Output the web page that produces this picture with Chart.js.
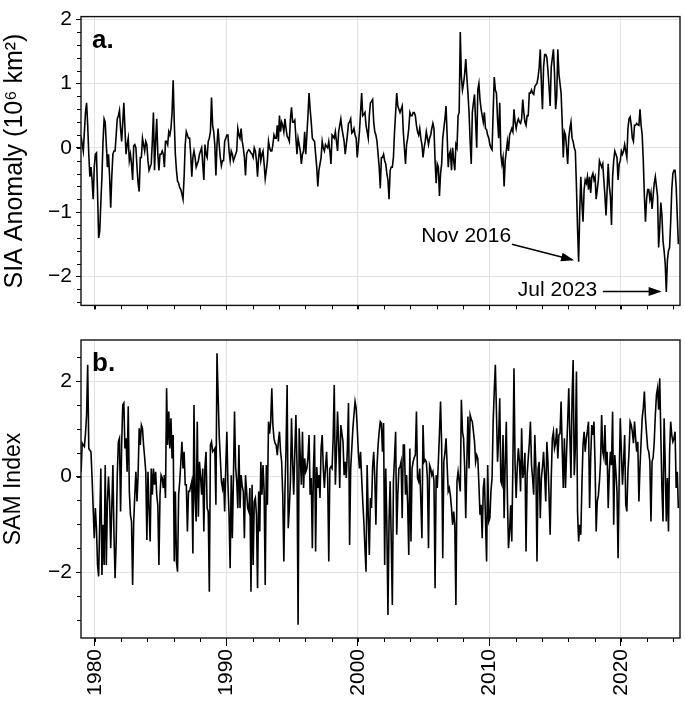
<!DOCTYPE html>
<html><head><meta charset="utf-8">
<script src="https://cdn.jsdelivr.net/npm/chart.js@4.4.1/dist/chart.umd.min.js"></script>
<style>
html,body{margin:0;padding:0;background:#fff;}
#wrap{position:relative;width:685px;height:712px;background:#fff;}
#c1{position:absolute;left:0;top:0;}
#c2{position:absolute;left:0;top:322px;}
</style></head><body>
<div id="wrap"><canvas id="c1" width="685" height="322"></canvas><canvas id="c2" width="685" height="390"></canvas></div>
<script>
// ---------------- DATA ----------------
const startYear = 1979;           // first month = Jan 1979, monthly series
const decadeTicks = [1980, 1990, 2000, 2010, 2020];
const siaTicks = [-2, -1, 0, 1, 2];
const samTicks = [-2, 0, 2];

// Antarctic sea-ice area anomaly (10^6 km^2), monthly
const siaAnomaly = [
 0.18, 0.05,-0.05, 0.25, 0.55, 0.70, 0.35,-0.10,-0.45,-0.30,-0.50,-0.80, // 1979
-0.30,-0.10,-0.08,-0.70,-1.40,-1.30,-0.85,-0.45, 0.10, 0.45, 0.40, 0.05, // 1980
-0.30,-0.10,-0.45,-0.93,-0.45,-0.10,-0.05,-0.05, 0.20, 0.45, 0.50, 0.58, // 1981
 0.30, 0.10, 0.40, 0.70, 0.30,-0.10, 0.05, 0.15,-0.20,-0.10,-0.25,-0.50, // 1982
 0.03, 0.05, 0.00,-0.30,-0.55,-0.68,-0.15,-0.15, 0.15, 0.05,-0.05, 0.10, // 1983
 0.05,-0.20,-0.35,-0.30,-0.25, 0.10, 0.55,-0.35, 0.10, 0.45,-0.10,-0.35, // 1984
-0.10,-0.10,-0.05,-0.10,-0.30, 0.10, 0.10, 0.05, 0.25, 0.20, 0.30, 0.55, // 1985
 1.05, 0.40,-0.10,-0.35,-0.52,-0.55,-0.62,-0.65,-0.72,-0.80,-0.45, 0.05, // 1986
 0.25, 0.20, 0.15, 0.15,-0.10,-0.45,-0.15,-0.05,-0.15,-0.30,-0.25,-0.20, // 1987
-0.10,-0.05, 0.00,-0.25,-0.50, 0.05,-0.10,-0.15, 0.10, 0.15, 0.25, 0.78, // 1988
 0.35, 0.25, 0.05,-0.43, 0.05, 0.30, 0.05,-0.15,-0.28,-0.20,-0.20, 0.10, // 1989
 0.15, 0.20, 0.20,-0.05,-0.20,-0.05,-0.10,-0.20,-0.15,-0.10,-0.05, 0.30, // 1990
 0.20, 0.15, 0.30, 0.10, 0.00,-0.15,-0.43,-0.10,-0.05,-0.03,-0.05,-0.08, // 1991
-0.10,-0.15, 0.00,-0.05,-0.20,-0.45,-0.15, 0.00,-0.20,-0.10,-0.05,-0.25, // 1992
-0.48,-0.35,-0.20, 0.10, 0.00,-0.05,-0.05, 0.05, 0.20, 0.15, 0.15, 0.35, // 1993
 0.10, 0.50, 0.25, 0.40, 0.35, 0.25, 0.45, 0.30, 0.18, 0.15, 0.10, 0.45, // 1994
 0.63, 0.40, 0.40, 0.43, 0.15,-0.10, 0.15, 0.05,-0.05,-0.25,-0.10,-0.05, // 1995
 0.25,-0.10, 0.20, 0.50, 0.85, 0.60, 0.40, 0.15, 0.12, 0.10,-0.10,-0.30, // 1996
-0.60,-0.35,-0.25,-0.15, 0.10, 0.00,-0.05, 0.05, 0.02, 0.00, 0.10,-0.05, // 1997
-0.25, 0.20, 0.18, 0.15, 0.25, 0.10,-0.05, 0.25, 0.35, 0.45, 0.30, 0.20, // 1998
 0.10,-0.10, 0.05, 0.20, 0.38, 0.40, 0.45, 0.23, 0.25, 0.30, 0.20, 0.15, // 1999
-0.15, 0.05, 0.25, 0.55, 0.85, 0.50, 0.52, 0.55, 0.35, 0.25, 0.15, 0.50, // 2000
 0.70, 0.72, 0.75, 0.40, 0.25, 0.20, 0.10,-0.10,-0.30,-0.63,-0.15,-0.15, // 2001
-0.10,-0.20,-0.25,-0.40,-0.50,-0.80,-0.35,-0.30,-0.30,-0.15, 0.25, 0.55, // 2002
 0.85, 0.65, 0.60, 0.55, 0.60, 0.65, 0.25, 0.00,-0.25, 0.05, 0.15, 0.30, // 2003
 0.55, 0.50, 0.50, 0.55, 0.55, 0.50, 0.35, 0.25, 0.20, 0.30, 0.15, 0.05, // 2004
-0.15, 0.00, 0.10, 0.25, 0.15, 0.05, 0.15, 0.20, 0.30, 0.38, 0.30,-0.20, // 2005
-0.55,-0.25,-0.30,-0.75,-0.40,-0.25, 0.15, 0.30, 0.45, 0.65, 0.20,-0.30, // 2006
-0.10,-0.05,-0.35, 0.00,-0.20,-0.35, 0.05, 0.00, 0.50, 0.55, 1.80, 1.10, // 2007
 0.90, 1.00, 1.15, 1.38, 1.10, 0.85, 0.55, 0.10,-0.25, 0.55, 0.70, 0.83, // 2008
 0.40, 0.00, 0.90, 1.00, 0.75, 0.60, 0.50, 0.40, 0.55, 0.30, 0.28, 0.20, // 2009
 0.15, 0.05, 0.00,-0.03, 0.55, 1.10, 0.90, 0.85, 0.45, 0.15, 0.70,-0.10, // 2010
-0.25,-0.15,-0.60,-0.20,-0.05, 0.10,-0.05, 0.20, 0.25, 0.30, 0.25, 0.60, // 2011
 0.40, 0.30, 0.40, 0.45, 0.40, 0.38, 0.45, 0.75, 0.55, 0.40, 0.35, 0.50, // 2012
 0.50, 0.85, 0.85, 0.90, 0.85, 0.83, 0.95, 0.98, 1.00, 1.10, 1.25, 1.53, // 2013
 1.00, 0.60, 1.25, 1.45, 1.45, 1.40, 1.20, 0.95, 0.65, 1.25, 1.40, 1.53, // 2014
 1.15, 0.60, 0.80, 1.53, 1.15, 1.00, 0.85, 0.40,-0.15, 0.25, 0.20, 0.00, // 2015
-0.25, 0.15, 0.30, 0.40, 0.15, 0.10, 0.00,-0.05,-0.60,-1.25,-1.77,-1.00, // 2016
-0.45,-0.85,-1.15,-0.65,-0.50,-0.55,-0.45,-0.65,-0.45,-0.70,-0.45,-0.40, // 2017
-0.50,-0.45,-0.80,-0.65,-0.50,-0.20,-0.25,-0.30,-0.25,-0.50,-0.75,-1.05, // 2018
-0.65,-0.25,-0.60,-0.75,-1.20,-0.45,-0.20,-0.05,-0.10,-0.15,-0.50,-0.25, // 2019
-0.20,-0.05,-0.10,-0.05, 0.05,-0.05,-0.15, 0.30, 0.45, 0.48, 0.35, 0.15, // 2020
 0.10, 0.35, 0.35, 0.38, 0.36, 0.35, 0.60, 0.35, 0.20,-0.20,-0.75,-1.15, // 2021
-0.80,-0.65,-0.65,-0.80,-0.70,-0.95,-0.75,-0.55,-0.45,-0.60,-0.75,-1.55, // 2022
-1.25,-0.85,-1.05,-1.45,-1.60,-1.80,-2.24,-1.75,-1.60,-1.55,-1.15,-0.65, // 2023
-0.40,-0.35,-0.35,-0.60,-1.05,-1.50                                      // 2024
];

// Southern Annular Mode index, monthly
const samIndex = [
 0.10, 0.70, 0.66, 0.63, 0.90, 1.29, 2.34, 0.59, 0.55, 0.52,-0.03,-0.66, // 1979
-1.29,-0.66,-1.08,-1.85,-2.09,-0.94, 0.17,-2.06,-1.01,-1.85, 0.24,-1.85, // 1980
-0.52, 0.00,-0.52,-1.50,-0.66, 0.24,-1.22,-2.13,-1.36, 0.03, 0.73, 0.80, // 1981
-0.73, 0.66, 1.50, 1.54, 0.59, 0.80, 0.10, 1.47,-0.31,-0.80,-0.94,-2.27, // 1982
-0.94,-0.38, 0.10,-0.52, 0.03, 1.01, 0.66, 1.08, 1.01, 0.66, 0.40, 0.10, // 1983
-1.33, 0.10,-0.66,-1.36, 0.17,-0.38, 0.17,-0.17, 0.10,-0.38,-0.60,-1.85, // 1984
-0.38, 0.03,-0.03,-0.24, 0.03,-0.45, 1.85, 0.66, 1.36, 0.59, 1.22, 0.38, // 1985
 0.87,-1.78,-0.31,-1.78,-1.99,-0.38,-0.10, 0.30, 0.73, 0.17, 0.52,-0.17, // 1986
-0.17,-1.15,-0.31,-0.31,-0.20,-0.10,-1.61, 1.50,-0.50,-0.94, 1.15,-0.84, // 1987
 0.31, 0.00,-0.38, 0.17,-1.15, 0.20, 0.52,-0.66,-0.73,-2.41, 0.66, 0.73, // 1988
 0.52, 0.55, 0.59,-0.59, 2.58, 1.71, 0.87, 0.40,-0.10,-0.24,-0.03,-0.73, // 1989
 0.20, 0.94,-0.17,-0.80,-1.92, 0.03,-1.29,-0.03, 1.36, 0.20,-0.10,-0.66, // 1990
 0.66,-0.66, 0.03,-0.20,-0.31,-1.29, 0.03,-0.30,-0.66,-0.73,-0.24,-2.41, // 1991
-0.17,-1.85,-0.52,-0.45,-0.80,-2.34,-0.31,-1.15, 0.31,-0.38, 0.24,-0.31, // 1992
-2.27, 0.24,-0.59, 1.15, 0.90, 1.15, 1.85, 1.08, 0.80, 0.70, 0.66, 0.45, // 1993
 0.73, 0.94, 0.52, 0.31,-0.38,-1.78,-0.31, 0.60, 1.92,-1.08,-0.66,-0.10, // 1994
 1.22, 0.31,-0.38, 0.50, 1.29, 0.24,-3.10, 1.01, 0.40,-0.17, 0.94,-0.24, // 1995
 0.38, 0.10, 0.17, 0.40, 0.87,-0.38,-0.03,-1.50, 0.17, 0.87,-1.57, 0.20, // 1996
-0.24, 0.03,-0.45, 0.59, 0.87, 0.17,-0.24, 0.20, 0.52,-0.03,-1.78, 0.17, // 1997
 0.21, 0.17, 0.80, 1.92,-0.17, 0.50, 1.36, 0.73,-0.24, 1.08, 0.90, 0.73, // 1998
 0.03, 0.31,-0.03, 0.60, 1.54,-1.43, 0.17, 0.59, 1.01, 1.30, 1.57, 1.43, // 1999
 1.01, 0.50, 0.17, 0.52,-0.03,-0.52,-0.94,-1.50,-1.99, 0.24,-0.80,-1.64, // 2000
-0.45,-0.66, 0.20, 0.52,-0.03,-1.01, 0.20, 0.66, 0.94, 1.15, 1.12, 0.52, // 2001
 1.12,-1.85, 0.17,-1.00,-2.90,-0.94,-0.10,-1.36,-2.69,-0.10, 0.40, 0.94, // 2002
-1.22,-0.38, 0.17, 0.20, 0.31,-0.87, 0.66, 0.66,-0.38, 0.03,-0.60,-1.64, // 2003
 0.59,-1.36, 0.17, 0.31, 0.40, 0.45, 1.36,-0.03,-0.10, 0.17,-0.50,-1.29, // 2004
 1.08, 0.31, 0.35, 0.31,-0.03,-1.50, 0.24, 0.17, 0.03, 0.10,-0.10,-2.34, // 2005
 0.03,-0.24, 0.31, 0.90, 1.57, 0.66,-1.71, 0.31, 0.50, 0.80, 0.24,-0.31, // 2006
-0.24,-0.40,-0.66,-1.01,-0.73,-1.01,-2.69,-0.10, 0.10,-0.10,-0.31, 1.61, // 2007
 0.94, 0.80, 0.20,-0.87, 0.31, 1.26, 0.17, 1.29, 1.20, 1.15, 0.94, 0.73, // 2008
 0.31, 0.45, 0.38,-0.17,-0.80,-0.59,-1.29,-0.24,-0.03,-0.90,-1.78, 0.24, // 2009
-0.94,-0.87,-0.30,-0.03, 1.15, 1.78, 2.34, 1.36, 0.31, 0.80, 1.64,-0.10, // 2010
-0.17, 0.87,-0.87, 0.30, 1.15,-0.45,-1.50,-1.15,-0.60,-1.36, 0.24, 2.27, // 2011
 0.24,-0.45, 0.20, 0.59, 0.31,-0.31, 1.01,-0.03, 0.10, 0.50,-1.57, 0.03, // 2012
 0.38, 0.70, 1.15, 0.24,-0.03,-0.38, 0.87, 0.20,-1.78, 0.17, 0.31,-0.87, // 2013
-0.03, 0.20, 0.52, 0.03,-0.52, 0.73, 0.31,-0.40,-1.22,-0.03, 0.80, 0.94, // 2014
 0.59, 0.70, 1.01, 0.38, 0.87, 0.90, 1.57, 0.59,-0.24, 0.80,-0.24, 0.50, // 2015
 1.15, 1.85, 0.87,-0.03, 1.64, 2.44, 0.03, 0.60, 2.20,-0.73,-1.36,-1.01, // 2016
-1.22,-0.17, 0.66, 0.94, 0.52, 0.80, 0.95, 1.15,-0.66, 0.40, 1.08, 0.87, // 2017
 1.15, 0.24,-1.15,-0.52,-0.40,-0.10, 0.31, 1.29, 0.52, 0.40, 1.08, 0.24, // 2018
 0.52,-0.66, 0.10, 0.52, 0.24, 1.36,-1.01, 0.45, 0.10,-0.31,-1.71,-0.03, // 2019
 1.22, 0.52,-0.17, 0.30, 0.87,-0.59,-0.73, 0.10, 0.52, 1.15, 1.08, 0.94, // 2020
 0.70, 1.15, 0.80, 0.52, 0.73,-0.52, 0.20, 0.73, 1.22, 1.43, 1.78, 1.22, // 2021
 0.90, 0.59, 0.52, 0.31,-0.94, 0.31, 0.40, 0.73, 1.29, 1.71, 1.85, 1.40, // 2022
 2.06, 0.87,-0.24,-0.94, 1.22, 0.30,-0.94,-0.03,-1.15, 0.52, 1.15, 0.87, // 2023
 0.73, 0.80, 0.94,-0.24, 0.10,-0.66                                      // 2024
];

// annotation labels
const annotationLabels = ['Nov 2016', 'Jul 2023'];

// ---------------- RENDERING ----------------
const FONT = '"Liberation Sans", Arial, Helvetica, sans-serif';
const monthX = i => startYear + (i - 0.5) / 12;
const toPoints = arr => arr.map((v, i) => ({ x: monthX(i), y: v }));
const fmt = v => (v < 0 ? '\u2212' + Math.abs(v) : String(v));

const X_MIN = 1978.95, X_MAX = 2024.5;
const minorYears = [];
for (let yv = 1980; yv <= 2024; yv += 2) minorYears.push(yv);
function range(a, b, s) { const r = []; for (let v = a; v <= b + 1e-9; v += s) r.push(Math.round(v * 100) / 100); return r; }

const framePlugin = {
  id: 'frame',
  afterDatasetsDraw(chart, args, o) {
    const { ctx, chartArea: a, scales } = chart;
    const x = scales.x, y = scales.y;
    ctx.save();
    ctx.strokeStyle = '#000';
    ctx.lineWidth = 1;
    ctx.beginPath();
    o.minorX.forEach(v => {
      const px = Math.round(x.getPixelForValue(v)) + 0.5;
      ctx.moveTo(px, a.bottom); ctx.lineTo(px, a.bottom + o.minorLenX);
    });
    o.minorY.forEach(v => {
      const py = Math.round(y.getPixelForValue(v)) + 0.5;
      ctx.moveTo(a.left, py); ctx.lineTo(a.left - 4, py);
    });
    ctx.stroke();
    ctx.lineWidth = 1.4;
    ctx.strokeStyle = '#111';
    ctx.strokeRect(a.left, a.top, a.right - a.left, a.bottom - a.top);
    ctx.fillStyle = '#000';
    ctx.font = 'bold 26px ' + FONT;
    ctx.textAlign = 'left';
    ctx.textBaseline = 'alphabetic';
    ctx.fillText(o.panel, a.left + 11, a.top + 31);
    ctx.restore();
  }
};

function arrow(ctx, x1, y1, x2, y2) {
  ctx.beginPath(); ctx.moveTo(x1, y1); ctx.lineTo(x2, y2); ctx.stroke();
  const ang = Math.atan2(y2 - y1, x2 - x1), L = 11, W = 4.5;
  ctx.beginPath();
  ctx.moveTo(x2 + 2 * Math.cos(ang), y2 + 2 * Math.sin(ang));
  ctx.lineTo(x2 - L * Math.cos(ang) + W * Math.sin(ang), y2 - L * Math.sin(ang) - W * Math.cos(ang));
  ctx.lineTo(x2 - L * Math.cos(ang) - W * Math.sin(ang), y2 - L * Math.sin(ang) + W * Math.cos(ang));
  ctx.closePath(); ctx.fill();
}

const annotatePlugin = {
  id: 'annot',
  afterDatasetsDraw(chart) {
    const { ctx, scales } = chart;
    const x = scales.x, y = scales.y;
    ctx.save();
    ctx.fillStyle = '#000'; ctx.strokeStyle = '#000'; ctx.lineWidth = 1.5;
    ctx.font = '21px ' + FONT;
    ctx.textBaseline = 'middle';
    // Nov 2016
    ctx.textAlign = 'right';
    ctx.fillText(annotationLabels[0], x.getPixelForValue(2011.66), y.getPixelForValue(-1.37));
    arrow(ctx, x.getPixelForValue(2011.72), y.getPixelForValue(-1.50), x.getPixelForValue(2016.3), y.getPixelForValue(-1.74));
    // Jul 2023
    ctx.textAlign = 'left';
    ctx.fillText(annotationLabels[1], x.getPixelForValue(2012.17), y.getPixelForValue(-2.22));
    arrow(ctx, x.getPixelForValue(2018.63), y.getPixelForValue(-2.235), x.getPixelForValue(2022.95), y.getPixelForValue(-2.235));
    ctx.restore();
  }
};

function makeChart(canvas, values, opts) {
  return new Chart(canvas, {
    type: 'line',
    data: { datasets: [{ data: toPoints(values), borderColor: '#000', borderWidth: 1.6, pointRadius: 0, tension: 0, fill: false }] },
    options: {
      responsive: false, animation: false, devicePixelRatio: 1,
      layout: { padding: { top: opts.padTop, right: 5, left: 0, bottom: 0 } },
      plugins: { legend: { display: false }, tooltip: { enabled: false },
        frame: { minorX: minorYears, minorY: opts.minorY, minorLenX: 4, panel: opts.panel } },
      scales: {
        x: {
          type: 'linear', min: X_MIN, max: X_MAX,
          afterBuildTicks: s => { s.ticks = decadeTicks.map(v => ({ value: v })); },
          afterFit: s => { s.height = opts.xHeight; },
          grid: { color: '#e2e2e2', lineWidth: 1, tickColor: '#000', tickLength: opts.xTickLen, drawTicks: true },
          border: { display: false },
          ticks: { display: opts.xLabels, autoSkip: false, minRotation: 90, maxRotation: 90, padding: 3,
                   color: '#000', font: { family: FONT, size: 21 }, callback: v => String(v) }
        },
        y: {
          min: opts.yMin, max: opts.yMax,
          afterBuildTicks: s => { s.ticks = opts.yTicks.map(v => ({ value: v })); },
          afterFit: s => { s.width = 81; },
          grid: { color: '#e2e2e2', lineWidth: 1, tickColor: '#000', tickLength: 5 },
          border: { display: false },
          ticks: { color: '#000', padding: 4, font: { family: FONT, size: 21 }, callback: v => fmt(v) },
          title: { display: true, text: opts.title, color: '#000', font: { family: FONT, size: opts.titleSize }, padding: { top: 0, bottom: 4 } }
        }
      }
    },
    plugins: opts.plugins
  });
}

makeChart(document.getElementById('c1'), siaAnomaly, {
  padTop: 8, yMin: -2.45, yMax: 2.04, yTicks: siaTicks, minorY: range(-2.4, 2.0, 0.2),
  xHeight: 16, xTickLen: 4, xLabels: false, panel: 'a.', titleSize: 25,
  title: 'SIA Anomaly (10\u2076 km\u00b2)', plugins: [framePlugin, annotatePlugin]
});
makeChart(document.getElementById('c2'), samIndex, {
  padTop: 18, yMin: -3.38, yMax: 2.86, yTicks: samTicks, minorY: range(-3.0, 2.5, 0.5),
  xHeight: 74, xTickLen: 8, xLabels: true, panel: 'b.', titleSize: 23,
  title: 'SAM Index', plugins: [framePlugin]
});
</script>
</body></html>
